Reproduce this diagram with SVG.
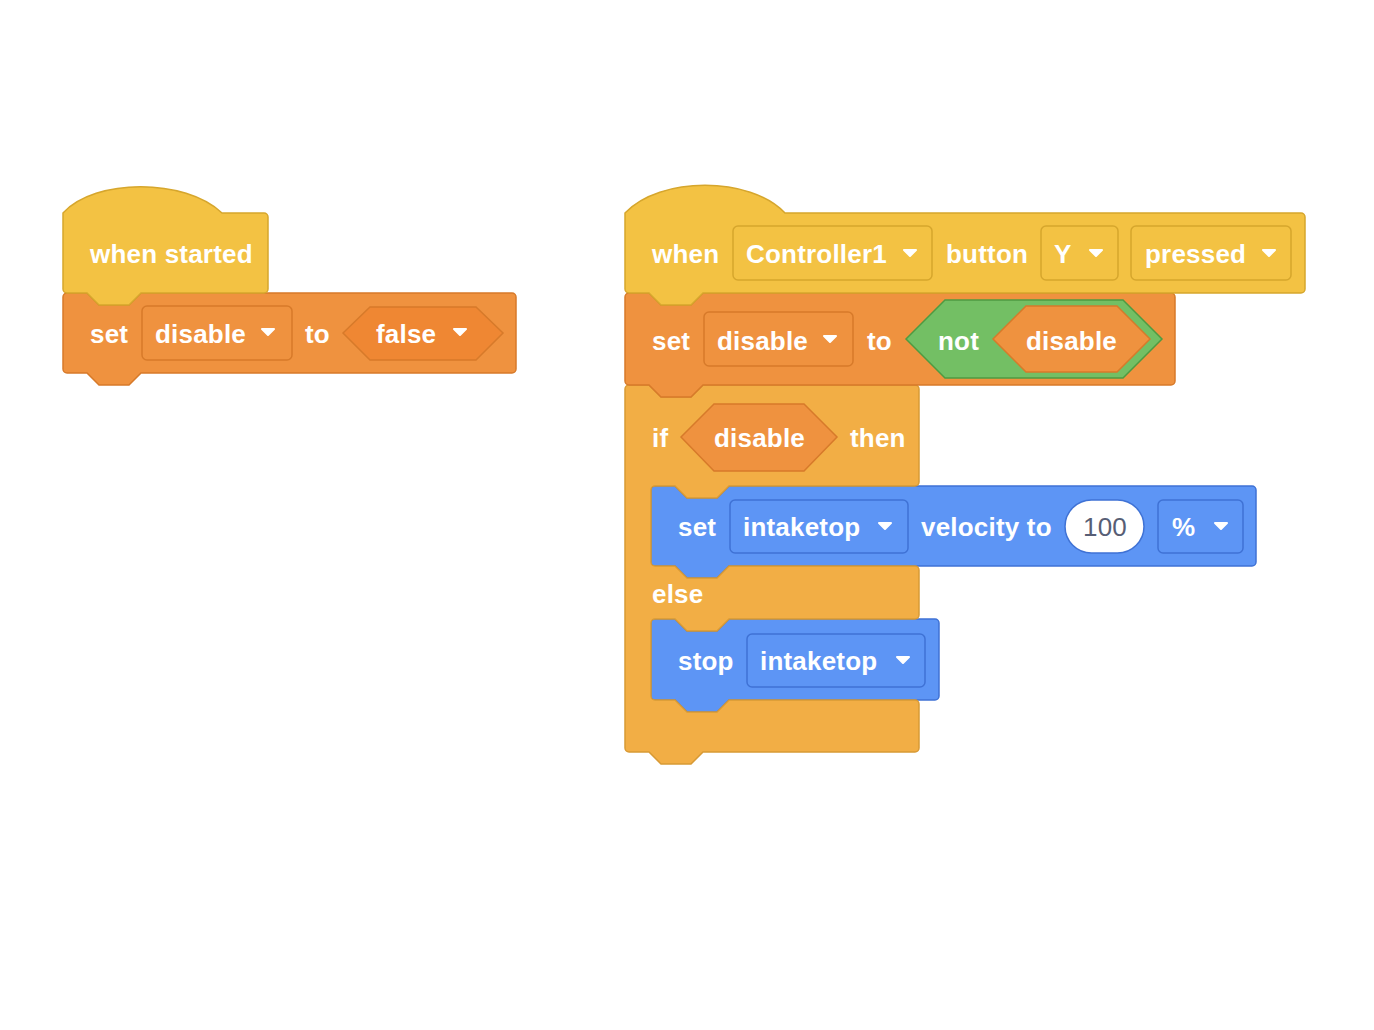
<svg xmlns="http://www.w3.org/2000/svg" width="1374" height="1030" viewBox="0 0 1374 1030">
<style>
text{font-family:"Liberation Sans",Arial,sans-serif;font-weight:bold;font-size:26px;fill:#fff;letter-spacing:0.2px}
.hat{fill:#f3c243;stroke:#d6a62d;stroke-width:1.5}
.var{fill:#ef923f;stroke:#d77a2a;stroke-width:1.5}
.ctl{fill:#f2ae45;stroke:#d89a35;stroke-width:1.5}
.mot{fill:#5d95f5;stroke:#3f72d5;stroke-width:1.5}
.ddh{fill:#f3c243;stroke:#d6a62d;stroke-width:1.5}
.ddv{fill:#ef923f;stroke:#d77a2a;stroke-width:1.5}
.ddm{fill:#5d95f5;stroke:#3f72d5;stroke-width:1.5}
.hexv{fill:#ef8733;stroke:#d77a2a;stroke-width:1.5}
.hexg{fill:#73bf64;stroke:#4f9a41;stroke-width:1.5}
.arr{fill:#fff;stroke:#fff;stroke-width:2;stroke-linejoin:round}
</style>
<g id="left-set">
<path class="var" d="M63 297 a4 4 0 0 1 4 -4 H87 l12 12 h30 l12 -12 H512 a4 4 0 0 1 4 4 V369 a4 4 0 0 1 -4 4 H141 l-12 12 h-30 l-12 -12 H67 a4 4 0 0 1 -4 -4 Z"/>
<text x="90" y="343">set</text>
<rect class="ddv" x="142" y="306" width="150" height="54" rx="5"/>
<text x="155" y="343">disable</text>
<path class="arr" d="M262 329 h12 l-6 6 z"/>
<text x="305" y="343">to</text>
<polygon class="hexv" points="343,333 370,307 476,307 503,333 476,360 370,360"/>
<text x="376" y="343">false</text>
<path class="arr" d="M454 329 h12 l-6 6 z"/>
</g>
<g id="left-hat">
<path class="hat" d="M63 213 C95 178 185 178 222 213 H264 a4 4 0 0 1 4 4 V289 a4 4 0 0 1 -4 4 H141 l-12 12 h-30 l-12 -12 H67 a4 4 0 0 1 -4 -4 Z"/>
<text x="90" y="263">when started</text>
</g>
<g id="stop">
<path class="mot" d="M651 623 a4 4 0 0 1 4 -4 H675 l12 12 h30 l12 -12 H935 a4 4 0 0 1 4 4 V696 a4 4 0 0 1 -4 4 H729 l-12 12 h-30 l-12 -12 H655 a4 4 0 0 1 -4 -4 Z"/>
<text x="678" y="670">stop</text>
<rect class="ddm" x="747" y="634" width="178" height="53" rx="5"/>
<text x="760" y="670">intaketop</text>
<path class="arr" d="M897 657 h12 l-6 6 z"/>
</g>
<g id="set-velocity">
<path class="mot" d="M651 490 a4 4 0 0 1 4 -4 H675 l12 12 h30 l12 -12 H1252 a4 4 0 0 1 4 4 V562 a4 4 0 0 1 -4 4 H729 l-12 12 h-30 l-12 -12 H655 a4 4 0 0 1 -4 -4 Z"/>
<text x="678" y="536">set</text>
<rect class="ddm" x="730" y="500" width="178" height="53" rx="5"/>
<text x="743" y="536">intaketop</text>
<path class="arr" d="M879 523 h12 l-6 6 z"/>
<text x="921" y="536">velocity to</text>
<rect x="1065" y="500" width="79" height="53" rx="26.5" fill="#fff" stroke="#3f72d5" stroke-width="1.5"/>
<text x="1083" y="536" style="fill:#575e75;font-weight:normal">100</text>
<rect class="ddm" x="1158" y="500" width="85" height="53" rx="5"/>
<text x="1172" y="536">%</text>
<path class="arr" d="M1215 523 h12 l-6 6 z"/>
</g>
<g id="if-else">
<path class="ctl" d="M625 389 a4 4 0 0 1 4 -4 H649 l12 12 h30 l12 -12 H915 a4 4 0 0 1 4 4 V482 a4 4 0 0 1 -4 4 H729 l-12 12 h-30 l-12 -12 H655 a4 4 0 0 0 -4 4 V562 a4 4 0 0 0 4 4 H675 l12 12 h30 l12 -12 H915 a4 4 0 0 1 4 4 V615 a4 4 0 0 1 -4 4 H729 l-12 12 h-30 l-12 -12 H655 a4 4 0 0 0 -4 4 V696 a4 4 0 0 0 4 4 H675 l12 12 h30 l12 -12 H915 a4 4 0 0 1 4 4 V748 a4 4 0 0 1 -4 4 H703 l-12 12 h-30 l-12 -12 H629 a4 4 0 0 1 -4 -4 Z"/>
<text x="652" y="447">if</text>
<polygon class="hexv" style="fill:#ef923f" points="681,437 714,404 804,404 837,437 804,471 714,471"/>
<text x="714" y="447">disable</text>
<text x="850" y="447">then</text>
<text x="652" y="603">else</text>
</g>
<g id="right-set">
<path class="var" d="M625 297 a4 4 0 0 1 4 -4 H649 l12 12 h30 l12 -12 H1171 a4 4 0 0 1 4 4 V381 a4 4 0 0 1 -4 4 H703 l-12 12 h-30 l-12 -12 H629 a4 4 0 0 1 -4 -4 Z"/>
<text x="652" y="350">set</text>
<rect class="ddv" x="704" y="312" width="149" height="54" rx="5"/>
<text x="717" y="350">disable</text>
<path class="arr" d="M824 336 h12 l-6 6 z"/>
<text x="867" y="350">to</text>
<polygon class="hexg" points="906,339 945,300 1123,300 1162,339 1123,378 945,378"/>
<text x="938" y="350">not</text>
<polygon class="hexv" style="fill:#ef923f" points="993,339 1026,306 1117,306 1150,339 1117,372 1026,372"/>
<text x="1026" y="350">disable</text>
</g>
<g id="right-hat">
<path class="hat" d="M625 213 C660 176 750 176 785 213 H1301 a4 4 0 0 1 4 4 V289 a4 4 0 0 1 -4 4 H703 l-12 12 h-30 l-12 -12 H629 a4 4 0 0 1 -4 -4 Z"/>
<text x="652" y="263">when</text>
<rect class="ddh" x="733" y="226" width="199" height="54" rx="5"/>
<text x="746" y="263">Controller1</text>
<path class="arr" d="M904 250 h12 l-6 6 z"/>
<text x="946" y="263">button</text>
<rect class="ddh" x="1041" y="226" width="77" height="54" rx="5"/>
<text x="1054" y="263">Y</text>
<path class="arr" d="M1090 250 h12 l-6 6 z"/>
<rect class="ddh" x="1131" y="226" width="160" height="54" rx="5"/>
<text x="1145" y="263">pressed</text>
<path class="arr" d="M1263 250 h12 l-6 6 z"/>
</g>
<g id="connectors"/>
</svg>
